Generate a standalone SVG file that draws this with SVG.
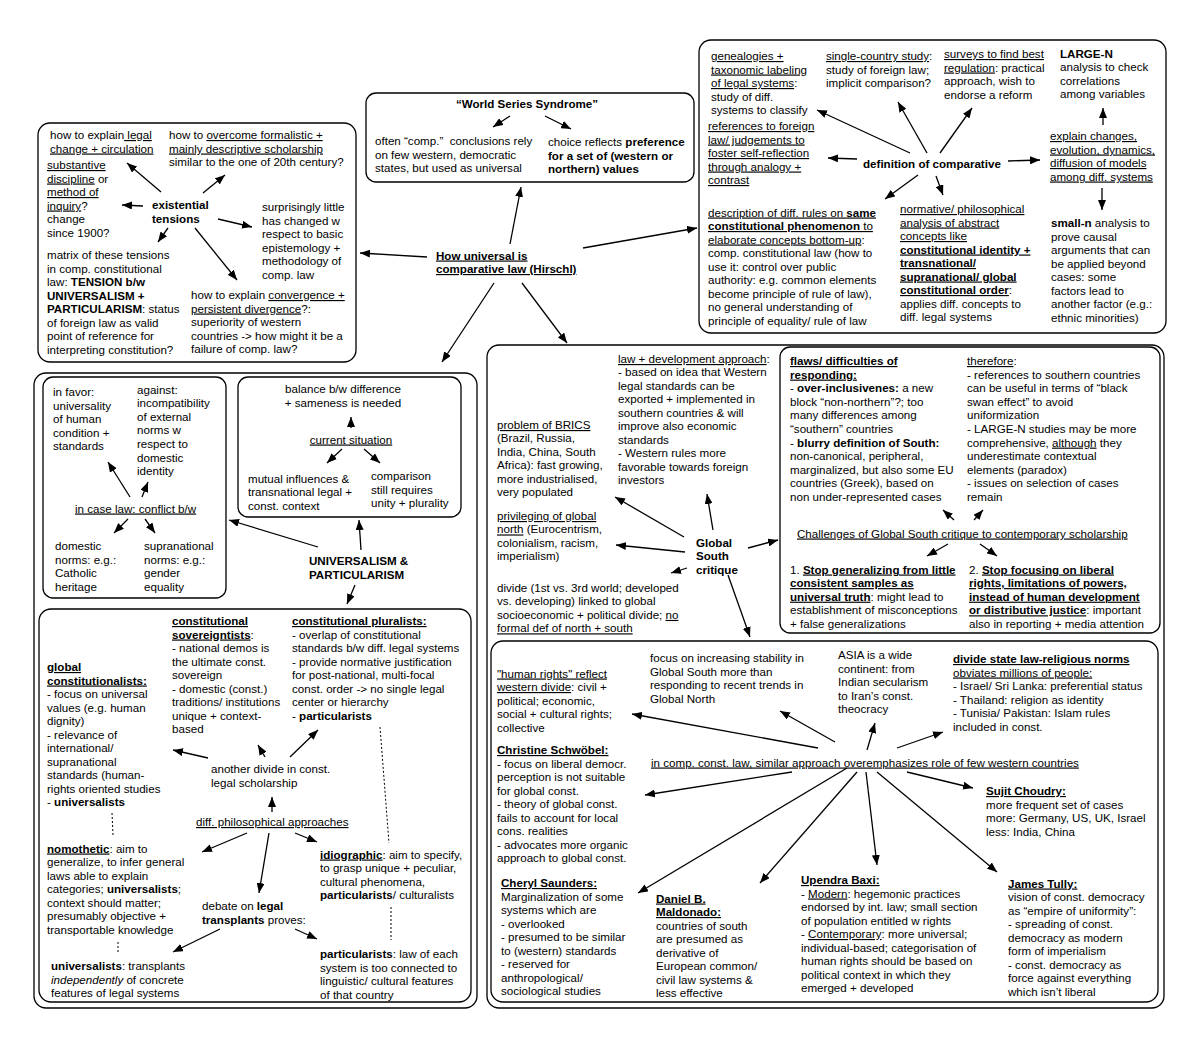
<svg xmlns="http://www.w3.org/2000/svg" width="1200" height="1052" viewBox="0 0 1200 1052">
<style>
.t{font-family:"Liberation Sans",Arial,Helvetica,sans-serif;font-size:11.6px;fill:#000}
.b{font-weight:bold}
.u{text-decoration:underline}
.i{font-style:italic}
.m{text-anchor:middle}
.box{fill:none;stroke:#000;stroke-width:1.3}
.c{stroke:#000;stroke-width:1.3;fill:none;marker-end:url(#ah)}
.d{stroke:#000;stroke-width:1;stroke-dasharray:2,2;fill:none}
</style>
<defs>
<marker id="ah" viewBox="0 0 10 8" refX="10" refY="4" markerWidth="10" markerHeight="8" orient="auto" markerUnits="userSpaceOnUse"><path d="M0,0 L10,4 L0,8 z" fill="#000"/></marker>
</defs>
<rect width="1200" height="1052" fill="#fff"/>

<g id="containers">
<rect class="box" x="38" y="123" width="318" height="239" rx="12"/>
<rect class="box" x="366" y="93" width="328" height="89" rx="10"/>
<rect class="box" x="699" y="40" width="467" height="293" rx="12"/>
<rect class="box" x="34" y="373" width="443" height="635" rx="12"/>
<rect class="box" x="43" y="377" width="183" height="221" rx="10"/>
<rect class="box" x="238" y="377" width="223" height="140" rx="10"/>
<rect class="box" x="39" y="609" width="432" height="393" rx="12"/>
<rect class="box" x="487" y="345" width="677" height="663" rx="12"/>
<rect class="box" x="780" y="347" width="380" height="286" rx="10"/>
<rect class="box" x="491" y="641" width="667" height="361" rx="12"/>
</g>

<g id="n-existential">
<text class="t" x="50" y="139">how to explain<tspan class="u"> legal</tspan><tspan x="50" dy="13.5" class="u">change + circulation</tspan></text>
<text class="t" x="169" y="139">how to <tspan class="u">overcome formalistic +</tspan><tspan x="169" dy="13.5" class="u">mainly descriptive scholarship</tspan><tspan x="169" dy="13.5">similar to the one of 20th century?</tspan></text>
<text class="t" x="47" y="169"><tspan class="u">substantive</tspan><tspan x="47" dy="13.5"><tspan class="u">discipline</tspan> or</tspan><tspan x="47" dy="13.5" class="u">method of</tspan><tspan x="47" dy="13.5"><tspan class="u">inquiry</tspan>?</tspan><tspan x="47" dy="13.5">change</tspan><tspan x="47" dy="13.5">since 1900?</tspan></text>
<text class="t b" x="152" y="209">existential<tspan x="152" dy="13.5">tensions</tspan></text>
<text class="t" x="262" y="211">surprisingly little<tspan x="262" dy="13.5">has changed w</tspan><tspan x="262" dy="13.5">respect to basic</tspan><tspan x="262" dy="13.5">epistemology +</tspan><tspan x="262" dy="13.5">methodology of</tspan><tspan x="262" dy="13.5">comp. law</tspan></text>
<text class="t" x="47" y="259">matrix of these tensions<tspan x="47" dy="13.5">in comp. constitutional</tspan><tspan x="47" dy="13.5">law: <tspan class="b">TENSION b/w</tspan></tspan><tspan x="47" dy="13.5" class="b">UNIVERSALISM +</tspan><tspan x="47" dy="13.5"><tspan class="b">PARTICULARISM</tspan>: status</tspan><tspan x="47" dy="13.5">of foreign law as valid</tspan><tspan x="47" dy="13.5">point of reference for</tspan><tspan x="47" dy="13.5">interpreting constitution?</tspan></text>
<text class="t" x="191" y="299">how to explain <tspan class="u">convergence +</tspan><tspan x="191" dy="13.5"><tspan class="u">persistent divergence</tspan>?:</tspan><tspan x="191" dy="13.5">superiority of western</tspan><tspan x="191" dy="13.5">countries -&gt; how might it be a</tspan><tspan x="191" dy="13.5">failure of comp. law?</tspan></text>
</g>

<g id="n-wss">
<text class="t b m" x="527" y="108">“World Series Syndrome”</text>
<text class="t" x="375" y="145">often “comp.” &#160;conclusions rely<tspan x="375" dy="13.5">on few western, democratic</tspan><tspan x="375" dy="13.5">states, but used as universal</tspan></text>
<text class="t" x="548" y="146">choice reflects <tspan class="b">preference</tspan><tspan x="548" dy="13.5" class="b">for a set of (western or</tspan><tspan x="548" dy="13.5" class="b">northern) values</tspan></text>
</g>

<g id="n-hirschl">
<text class="t b u" x="436" y="259.5">How universal is<tspan x="436" dy="13.5">comparative law (Hirschl)</tspan></text>
</g>

<g id="n-definition">
<text class="t" x="711" y="60"><tspan class="u">genealogies +</tspan><tspan x="711" dy="13.5" class="u">taxonomic labeling</tspan><tspan x="711" dy="13.5"><tspan class="u">of legal systems</tspan>:</tspan><tspan x="711" dy="13.5">study of diff.</tspan><tspan x="711" dy="13.5">systems to classify</tspan></text>
<text class="t" x="826" y="60"><tspan class="u">single-country study</tspan>:<tspan x="826" dy="13.5">study of foreign law;</tspan><tspan x="826" dy="13.5">implicit comparison?</tspan></text>
<text class="t" x="944" y="58"><tspan class="u">surveys to find best</tspan><tspan x="944" dy="13.5"><tspan class="u">regulation</tspan>: practical</tspan><tspan x="944" dy="13.5">approach, wish to</tspan><tspan x="944" dy="13.5">endorse a reform</tspan></text>
<text class="t" x="1060" y="57.5"><tspan class="b">LARGE-N</tspan><tspan x="1060" dy="13.5">analysis to check</tspan><tspan x="1060" dy="13.5">correlations</tspan><tspan x="1060" dy="13.5">among variables</tspan></text>
<text class="t u" x="708" y="130">references to foreign<tspan x="708" dy="13.5">law/ judgements to</tspan><tspan x="708" dy="13.5">foster self-reflection</tspan><tspan x="708" dy="13.5">through analogy +</tspan><tspan x="708" dy="13.5">contrast</tspan></text>
<text class="t b" x="863" y="168">definition of comparative</text>
<text class="t u" x="1050" y="140">explain changes,<tspan x="1050" dy="13.5">evolution, dynamics,</tspan><tspan x="1050" dy="13.5">diffusion of models</tspan><tspan x="1050" dy="13.5">among diff. systems</tspan></text>
<text class="t" x="708" y="216.5"><tspan class="u">description of diff. rules on <tspan class="b">same</tspan></tspan><tspan x="708" dy="13.5" class="u"><tspan class="b">constitutional phenomenon</tspan> to</tspan><tspan x="708" dy="13.5"><tspan class="u">elaborate concepts bottom-up</tspan>:</tspan><tspan x="708" dy="13.5">comp. constitutional law (how to</tspan><tspan x="708" dy="13.5">use it: control over public</tspan><tspan x="708" dy="13.5">authority: e.g. common elements</tspan><tspan x="708" dy="13.5">become principle of rule of law),</tspan><tspan x="708" dy="13.5">no general understanding of</tspan><tspan x="708" dy="13.5">principle of equality/ rule of law</tspan></text>
<text class="t" x="900" y="213"><tspan class="u">normative/ philosophical</tspan><tspan x="900" dy="13.5" class="u">analysis of abstract</tspan><tspan x="900" dy="13.5" class="u">concepts like</tspan><tspan x="900" dy="13.5" class="u b">constitutional identity +</tspan><tspan x="900" dy="13.5" class="u b">transnational/</tspan><tspan x="900" dy="13.5" class="u b">supranational/ global</tspan><tspan x="900" dy="13.5"><tspan class="u b">constitutional order</tspan>:</tspan><tspan x="900" dy="13.5">applies diff. concepts to</tspan><tspan x="900" dy="13.5">diff. legal systems</tspan></text>
<text class="t" x="1051" y="227"><tspan class="b">small-n</tspan> analysis to<tspan x="1051" dy="13.5">prove causal</tspan><tspan x="1051" dy="13.5">arguments that can</tspan><tspan x="1051" dy="13.5">be applied beyond</tspan><tspan x="1051" dy="13.5">cases: some</tspan><tspan x="1051" dy="13.5">factors lead to</tspan><tspan x="1051" dy="13.5">another factor (e.g.:</tspan><tspan x="1051" dy="13.5">ethnic minorities)</tspan></text>
</g>

<g id="n-caselaw">
<text class="t" x="53" y="396">in favor:<tspan x="53" dy="13.6">universality</tspan><tspan x="53" dy="13.6">of human</tspan><tspan x="53" dy="13.6">condition +</tspan><tspan x="53" dy="13.6">standards</tspan></text>
<text class="t" x="137" y="393.5">against:<tspan x="137" dy="13.6">incompatibility</tspan><tspan x="137" dy="13.6">of external</tspan><tspan x="137" dy="13.6">norms w</tspan><tspan x="137" dy="13.6">respect to</tspan><tspan x="137" dy="13.6">domestic</tspan><tspan x="137" dy="13.6">identity</tspan></text>
<text class="t u" x="75" y="512.5">in case law: conflict b/w</text>
<text class="t" x="55" y="550">domestic<tspan x="55" dy="13.6">norms: e.g.:</tspan><tspan x="55" dy="13.6">Catholic</tspan><tspan x="55" dy="13.6">heritage</tspan></text>
<text class="t" x="144" y="550">supranational<tspan x="144" dy="13.6">norms: e.g.:</tspan><tspan x="144" dy="13.6">gender</tspan><tspan x="144" dy="13.6">equality</tspan></text>
</g>

<g id="n-current">
<text class="t m" x="343" y="393">balance b/w difference<tspan x="343" dy="13.6">+ sameness is needed</tspan></text>
<text class="t u m" x="351" y="443.5">current situation</text>
<text class="t" x="248" y="482.5">mutual influences &amp;<tspan x="248" dy="13.6">transnational legal +</tspan><tspan x="248" dy="13.6">const. context</tspan></text>
<text class="t" x="371" y="480">comparison<tspan x="371" dy="13.6">still requires</tspan><tspan x="371" dy="13.6">unity + plurality</tspan></text>
</g>

<g id="n-universalism">
<text class="t b" x="309" y="565">UNIVERSALISM &amp;<tspan x="309" dy="13.6">PARTICULARISM</tspan></text>
</g>

<g id="n-divide">
<text class="t" x="172" y="625"><tspan class="u b">constitutional</tspan><tspan x="172" dy="13.5"><tspan class="u b">sovereigntists</tspan>:</tspan><tspan x="172" dy="13.5">- national demos is</tspan><tspan x="172" dy="13.5">the ultimate const.</tspan><tspan x="172" dy="13.5">sovereign</tspan><tspan x="172" dy="13.5">- domestic (const.)</tspan><tspan x="172" dy="13.5">traditions/ institutions</tspan><tspan x="172" dy="13.5">unique + context-</tspan><tspan x="172" dy="13.5">based</tspan></text>
<text class="t" x="292" y="625"><tspan class="u b">constitutional pluralists:</tspan><tspan x="292" dy="13.5">- overlap of constitutional</tspan><tspan x="292" dy="13.5">standards b/w diff. legal systems</tspan><tspan x="292" dy="13.5">- provide normative justification</tspan><tspan x="292" dy="13.5">for post-national, multi-focal</tspan><tspan x="292" dy="13.5">const. order -&gt; no single legal</tspan><tspan x="292" dy="13.5">center or hierarchy</tspan><tspan x="292" dy="13.5">- <tspan class="b">particularists</tspan></tspan></text>
<text class="t" x="47" y="671"><tspan class="u b">global</tspan><tspan x="47" dy="13.5" class="u b">constitutionalists:</tspan><tspan x="47" dy="13.5">- focus on universal</tspan><tspan x="47" dy="13.5">values (e.g. human</tspan><tspan x="47" dy="13.5">dignity)</tspan><tspan x="47" dy="13.5">- relevance of</tspan><tspan x="47" dy="13.5">international/</tspan><tspan x="47" dy="13.5">supranational</tspan><tspan x="47" dy="13.5">standards (human-</tspan><tspan x="47" dy="13.5">rights oriented studies</tspan><tspan x="47" dy="13.5">- <tspan class="b">universalists</tspan></tspan></text>
<text class="t" x="211" y="773">another divide in const.<tspan x="211" dy="13.5">legal scholarship</tspan></text>
<text class="t u" x="196" y="826">diff. philosophical approaches</text>
<text class="t" x="47" y="852.5"><tspan class="u b">nomothetic</tspan>: aim to<tspan x="47" dy="13.5">generalize, to infer general</tspan><tspan x="47" dy="13.5">laws able to explain</tspan><tspan x="47" dy="13.5">categories; <tspan class="b">universalists</tspan>;</tspan><tspan x="47" dy="13.5">context should matter;</tspan><tspan x="47" dy="13.5">presumably objective +</tspan><tspan x="47" dy="13.5">transportable knowledge</tspan></text>
<text class="t" x="320" y="858.5"><tspan class="u b">idiographic</tspan>: aim to specify,<tspan x="320" dy="13.5">to grasp unique + peculiar,</tspan><tspan x="320" dy="13.5">cultural phenomena,</tspan><tspan x="320" dy="13.5"><tspan class="b">particularists</tspan>/ culturalists</tspan></text>
<text class="t" x="202" y="910">debate on <tspan class="b">legal</tspan><tspan x="202" dy="13.5"><tspan class="b">transplants</tspan> proves:</tspan></text>
<text class="t" x="51" y="970"><tspan class="b">universalists</tspan>: transplants<tspan x="51" dy="13.5"><tspan class="i">independently</tspan> of concrete</tspan><tspan x="51" dy="13.5">features of legal systems</tspan></text>
<text class="t" x="320" y="958"><tspan class="b">particularists</tspan>: law of each<tspan x="320" dy="13.5">system is too connected to</tspan><tspan x="320" dy="13.5">linguistic/ cultural features</tspan><tspan x="320" dy="13.5">of that country</tspan></text>
</g>

<g id="n-globalsouth">
<text class="t" x="618" y="363"><tspan class="u">law + development approach</tspan>:<tspan x="618" dy="13.45">- based on idea that Western</tspan><tspan x="618" dy="13.45">legal standards can be</tspan><tspan x="618" dy="13.45">exported + implemented in</tspan><tspan x="618" dy="13.45">southern countries &amp; will</tspan><tspan x="618" dy="13.45">improve also economic</tspan><tspan x="618" dy="13.45">standards</tspan><tspan x="618" dy="13.45">- Western rules more</tspan><tspan x="618" dy="13.45">favorable towards foreign</tspan><tspan x="618" dy="13.45">investors</tspan></text>
<text class="t" x="497" y="429"><tspan class="u">problem of BRICS</tspan><tspan x="497" dy="13.45">(Brazil, Russia,</tspan><tspan x="497" dy="13.45">India, China, South</tspan><tspan x="497" dy="13.45">Africa): fast growing,</tspan><tspan x="497" dy="13.45">more industrialised,</tspan><tspan x="497" dy="13.45">very populated</tspan></text>
<text class="t" x="497" y="520"><tspan class="u">privileging of global</tspan><tspan x="497" dy="13.45"><tspan class="u">north</tspan> (Eurocentrism,</tspan><tspan x="497" dy="13.45">colonialism, racism,</tspan><tspan x="497" dy="13.45">imperialism)</tspan></text>
<text class="t b" x="696" y="546.5">Global<tspan x="696" dy="13.8">South</tspan><tspan x="696" dy="13.8">critique</tspan></text>
<text class="t" x="497" y="592">divide (1st vs. 3rd world; developed<tspan x="497" dy="13.45">vs. developing) linked to global</tspan><tspan x="497" dy="13.45">socioeconomic + political divide; <tspan class="u">no</tspan></tspan><tspan x="497" dy="13.45" class="u">formal def of north + south</tspan></text>
</g>

<g id="n-challenges">
<text class="t" x="790" y="365"><tspan class="u b">flaws/ difficulties of</tspan><tspan x="790" dy="13.6" class="u b">responding:</tspan><tspan x="790" dy="13.6">- <tspan class="b">over-inclusivenes:</tspan> a new</tspan><tspan x="790" dy="13.6">block “non-northern”?; too</tspan><tspan x="790" dy="13.6">many differences among</tspan><tspan x="790" dy="13.6">“southern” countries</tspan><tspan x="790" dy="13.6">- <tspan class="b">blurry definition of South:</tspan></tspan><tspan x="790" dy="13.6">non-canonical, peripheral,</tspan><tspan x="790" dy="13.6">marginalized, but also some EU</tspan><tspan x="790" dy="13.6">countries (Greek), based on</tspan><tspan x="790" dy="13.6">non under-represented cases</tspan></text>
<text class="t" x="967" y="365"><tspan class="u">therefore</tspan>:<tspan x="967" dy="13.6">- references to southern countries</tspan><tspan x="967" dy="13.6">can be useful in terms of “black</tspan><tspan x="967" dy="13.6">swan effect” to avoid</tspan><tspan x="967" dy="13.6">uniformization</tspan><tspan x="967" dy="13.6">- LARGE-N studies may be more</tspan><tspan x="967" dy="13.6">comprehensive, <tspan class="u">although</tspan> they</tspan><tspan x="967" dy="13.6">underestimate contextual</tspan><tspan x="967" dy="13.6">elements (paradox)</tspan><tspan x="967" dy="13.6">- issues on selection of cases</tspan><tspan x="967" dy="13.6">remain</tspan></text>
<text class="t u" x="797" y="537.5">Challenges of Global South critique to contemporary scholarship</text>
<text class="t" x="790" y="573.5">1. <tspan class="u b">Stop generalizing from little</tspan><tspan x="790" dy="13.6" class="u b">consistent samples as</tspan><tspan x="790" dy="13.6"><tspan class="u b">universal truth</tspan>: might lead to</tspan><tspan x="790" dy="13.6">establishment of misconceptions</tspan><tspan x="790" dy="13.6">+ false generalizations</tspan></text>
<text class="t" x="969" y="573.5">2. <tspan class="u b">Stop focusing on liberal</tspan><tspan x="969" dy="13.6" class="u b">rights, limitations of powers,</tspan><tspan x="969" dy="13.6" class="u b">instead of human development</tspan><tspan x="969" dy="13.6"><tspan class="u b">or distributive justice</tspan>: important</tspan><tspan x="969" dy="13.6">also in reporting + media attention</tspan></text>
</g>

<g id="n-comparison">
<text class="t" x="497" y="677.5"><tspan class="u">"human rights" reflect</tspan><tspan x="497" dy="13.5"><tspan class="u">western divide</tspan>: civil +</tspan><tspan x="497" dy="13.5">political; economic,</tspan><tspan x="497" dy="13.5">social + cultural rights;</tspan><tspan x="497" dy="13.5">collective</tspan></text>
<text class="t" x="650" y="662">focus on increasing stability in<tspan x="650" dy="13.5">Global South more than</tspan><tspan x="650" dy="13.5">responding to recent trends in</tspan><tspan x="650" dy="13.5">Global North</tspan></text>
<text class="t" x="838" y="659">ASIA is a wide<tspan x="838" dy="13.5">continent: from</tspan><tspan x="838" dy="13.5">Indian secularism</tspan><tspan x="838" dy="13.5">to Iran’s const.</tspan><tspan x="838" dy="13.5">theocracy</tspan></text>
<text class="t" x="953" y="663"><tspan class="u b">divide state law-religious norms</tspan><tspan x="953" dy="13.5" class="u">obviates millions of people:</tspan><tspan x="953" dy="13.5">- Israel/ Sri Lanka: preferential status</tspan><tspan x="953" dy="13.5">- Thailand: religion as identity</tspan><tspan x="953" dy="13.5">- Tunisia/ Pakistan: Islam rules</tspan><tspan x="953" dy="13.5">included in const.</tspan></text>
<text class="t" x="497" y="754"><tspan class="u b">Christine Schwöbel:</tspan><tspan x="497" dy="13.5">- focus on liberal democr.</tspan><tspan x="497" dy="13.5">perception is not suitable</tspan><tspan x="497" dy="13.5">for global const.</tspan><tspan x="497" dy="13.5">- theory of global const.</tspan><tspan x="497" dy="13.5">fails to account for local</tspan><tspan x="497" dy="13.5">cons. realities</tspan><tspan x="497" dy="13.5">- advocates more organic</tspan><tspan x="497" dy="13.5">approach to global const.</tspan></text>
<text class="t u" x="651" y="766.5">in comp. const. law, similar approach overemphasizes role of few western countries</text>
<text class="t" x="986" y="795"><tspan class="u b">Sujit Choudry:</tspan><tspan x="986" dy="13.5">more frequent set of cases</tspan><tspan x="986" dy="13.5">more: Germany, US, UK, Israel</tspan><tspan x="986" dy="13.5">less: India, China</tspan></text>
<text class="t" x="501" y="887"><tspan class="u b">Cheryl Saunders:</tspan><tspan x="501" dy="13.5">Marginalization of some</tspan><tspan x="501" dy="13.5">systems which are</tspan><tspan x="501" dy="13.5">- overlooked</tspan><tspan x="501" dy="13.5">- presumed to be similar</tspan><tspan x="501" dy="13.5">to (western) standards</tspan><tspan x="501" dy="13.5">- reserved for</tspan><tspan x="501" dy="13.5">anthropological/</tspan><tspan x="501" dy="13.5">sociological studies</tspan></text>
<text class="t" x="656" y="902.5"><tspan class="u b">Daniel B.</tspan><tspan x="656" dy="13.5" class="u b">Maldonado:</tspan><tspan x="656" dy="13.5">countries of south</tspan><tspan x="656" dy="13.5">are presumed as</tspan><tspan x="656" dy="13.5">derivative of</tspan><tspan x="656" dy="13.5">European common/</tspan><tspan x="656" dy="13.5">civil law systems &amp;</tspan><tspan x="656" dy="13.5">less effective</tspan></text>
<text class="t" x="801" y="884"><tspan class="u b">Upendra Baxi:</tspan><tspan x="801" dy="13.5">- <tspan class="u">Modern</tspan>: hegemonic practices</tspan><tspan x="801" dy="13.5">endorsed by int. law; small section</tspan><tspan x="801" dy="13.5">of population entitled w rights</tspan><tspan x="801" dy="13.5">- <tspan class="u">Contemporary</tspan>: more universal;</tspan><tspan x="801" dy="13.5">individual-based; categorisation of</tspan><tspan x="801" dy="13.5">human rights should be based on</tspan><tspan x="801" dy="13.5">political context in which they</tspan><tspan x="801" dy="13.5">emerged + developed</tspan></text>
<text class="t" x="1008" y="887.5"><tspan class="u b">James Tully:</tspan><tspan x="1008" dy="13.5">vision of const. democracy</tspan><tspan x="1008" dy="13.5">as “empire of uniformity”:</tspan><tspan x="1008" dy="13.5">- spreading of const.</tspan><tspan x="1008" dy="13.5">democracy as modern</tspan><tspan x="1008" dy="13.5">form of imperialism</tspan><tspan x="1008" dy="13.5">- const. democracy as</tspan><tspan x="1008" dy="13.5">force against everything</tspan><tspan x="1008" dy="13.5">which isn’t liberal</tspan></text>
</g>

<g id="connectors">
<line class="c" x1="161" y1="192" x2="127" y2="163"/>
<line class="c" x1="203" y1="193" x2="225" y2="175"/>
<line class="c" x1="143" y1="206" x2="122" y2="205"/>
<line class="c" x1="168" y1="228" x2="158" y2="242"/>
<line class="c" x1="218" y1="219" x2="252" y2="227"/>
<line class="c" x1="195" y1="228" x2="237" y2="280"/>
<line class="c" x1="510" y1="116" x2="493" y2="127"/>
<line class="c" x1="545" y1="116" x2="571" y2="129"/>
<line class="c" x1="510" y1="244" x2="521" y2="187"/>
<line class="c" x1="427" y1="257" x2="360" y2="253"/>
<line class="c" x1="583" y1="248" x2="697" y2="228"/>
<line class="c" x1="494" y1="283" x2="442" y2="362"/>
<line class="c" x1="522" y1="283" x2="567" y2="343"/>
<line class="c" x1="910" y1="153" x2="817" y2="110"/>
<line class="c" x1="927" y1="153" x2="898" y2="102"/>
<line class="c" x1="940" y1="153" x2="972" y2="108"/>
<line class="c" x1="857" y1="159" x2="828" y2="158"/>
<line class="c" x1="1008" y1="161" x2="1040" y2="160"/>
<line class="c" x1="918" y1="175" x2="885" y2="199"/>
<line class="c" x1="936" y1="176" x2="943" y2="195"/>
<line class="c" x1="1103" y1="125" x2="1103" y2="108"/>
<line class="c" x1="1102" y1="188" x2="1102" y2="210"/>
<line class="c" x1="130" y1="497" x2="108" y2="462"/>
<line class="c" x1="142" y1="497" x2="148" y2="482"/>
<line class="c" x1="128" y1="519" x2="114" y2="533"/>
<line class="c" x1="145" y1="519" x2="155" y2="533"/>
<line class="c" x1="351" y1="428" x2="351" y2="417"/>
<line class="c" x1="342" y1="449" x2="327" y2="463"/>
<line class="c" x1="364" y1="449" x2="380" y2="463"/>
<line class="c" x1="318" y1="547" x2="229" y2="520"/>
<line class="c" x1="361" y1="550" x2="359" y2="520"/>
<line class="c" x1="355" y1="585" x2="347" y2="604"/>
<line class="c" x1="208" y1="758" x2="173" y2="750"/>
<line class="c" x1="265" y1="757" x2="258" y2="745"/>
<line class="c" x1="290" y1="757" x2="318" y2="730"/>
<line class="c" x1="272" y1="812" x2="272" y2="797"/>
<line class="c" x1="247" y1="833" x2="202" y2="852"/>
<line class="c" x1="269" y1="833" x2="259" y2="893"/>
<line class="c" x1="295" y1="833" x2="317" y2="842"/>
<line class="c" x1="220" y1="929" x2="173" y2="952"/>
<line class="c" x1="295" y1="929" x2="317" y2="939"/>
<line class="d" x1="380" y1="727" x2="389" y2="843"/>
<line class="d" x1="112" y1="813" x2="113" y2="835"/>
<line class="d" x1="391" y1="907" x2="391" y2="940"/>
<line class="d" x1="118" y1="942" x2="118" y2="954"/>
<line class="c" x1="684" y1="537" x2="615" y2="497"/>
<line class="c" x1="713" y1="530" x2="707" y2="494"/>
<line class="c" x1="685" y1="552" x2="616" y2="545"/>
<line class="c" x1="687" y1="568" x2="671" y2="573"/>
<line class="c" x1="748" y1="548" x2="778" y2="540"/>
<line class="c" x1="728" y1="575" x2="750" y2="637"/>
<line class="c" x1="954" y1="520" x2="943" y2="510"/>
<line class="c" x1="974" y1="520" x2="983" y2="510"/>
<line class="c" x1="948" y1="544" x2="927" y2="556"/>
<line class="c" x1="980" y1="544" x2="997" y2="556"/>
<line class="c" x1="818" y1="748" x2="632" y2="714"/>
<line class="c" x1="835" y1="742" x2="780" y2="711"/>
<line class="c" x1="792" y1="772" x2="645" y2="795"/>
<line class="c" x1="847" y1="768" x2="638" y2="893"/>
<line class="c" x1="857" y1="772" x2="760" y2="883"/>
<line class="c" x1="867" y1="750" x2="875" y2="723"/>
<line class="c" x1="897" y1="748" x2="943" y2="732"/>
<line class="c" x1="907" y1="772" x2="973" y2="788"/>
<line class="c" x1="866" y1="772" x2="877" y2="865"/>
<line class="c" x1="877" y1="772" x2="997" y2="872"/>
</g>
</svg>
